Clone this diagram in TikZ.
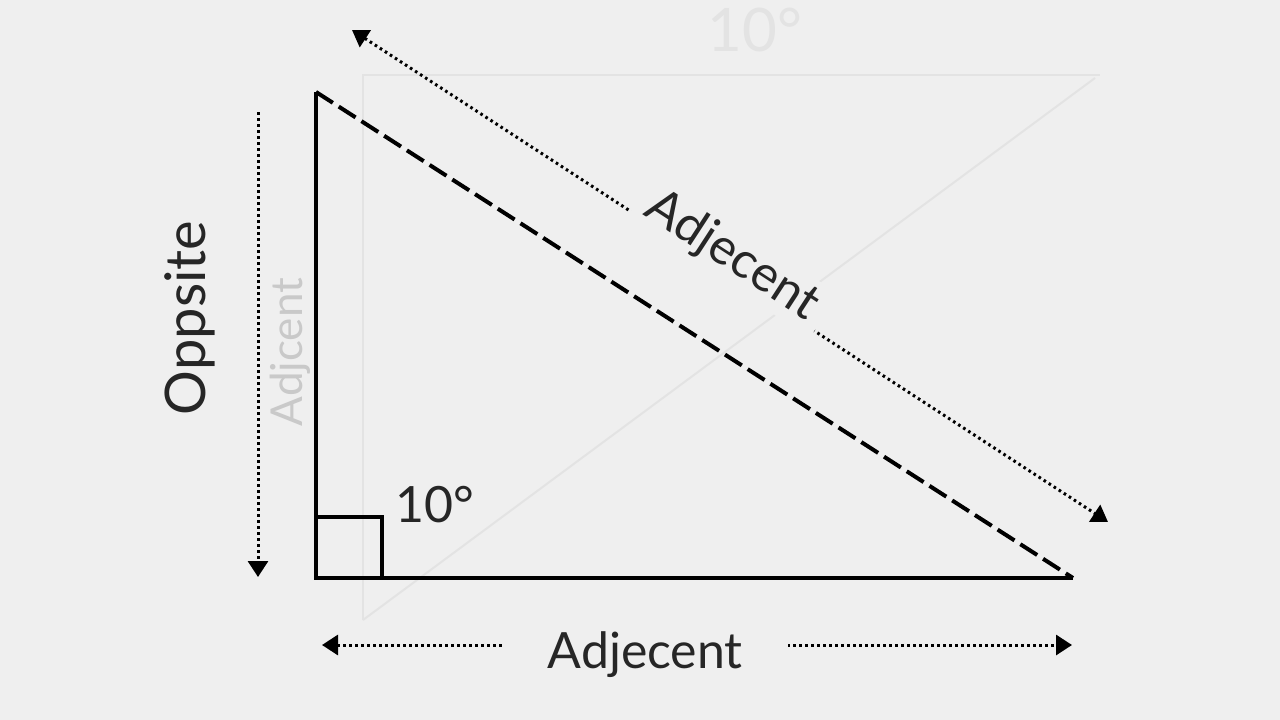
\documentclass[tikz,border=0pt]{standalone}
\usepackage{fontspec}
\setmainfont{Lato}
\usetikzlibrary{arrows.meta}
\definecolor{bg}{HTML}{EFEFEF}
\definecolor{ghost}{HTML}{E3E3E3}
\definecolor{ghosttext}{HTML}{C9C9C9}
\tikzset{
  side/.style={line width=4pt, line join=miter},
  dotarrow/.style={line width=3pt, dash pattern=on 2.6pt off 3.4pt,
    arrows={-Triangle[length=16pt,width=20pt]}},
  twoway/.style={arrows={Triangle[length=16pt,width=20pt]-Triangle[length=16pt,width=20pt]}},
  lbl/.style={font=\fontsize{50}{60}\selectfont, text=black!85},
}
\begin{document}
\begin{tikzpicture}[x=1pt,y=-1pt]
\fill[bg] (0,0) rectangle (1280,720);
\useasboundingbox (0,0) rectangle (1280,720);

% faint background
\draw[ghost, line width=2pt] (363,620) -- (363,75) -- (1100,75);
\draw[ghost, line width=2pt] (363,620) -- (1095,78);
\node[text=ghost, font=\fontsize{60}{60}\selectfont] (ghostangle) at (755,30) {10°};
\node[text=ghosttext, rotate=90, font=\fontsize{44}{48}\selectfont] (ghostadj) at (290,352) {Adjcent};

% triangle
\coordinate (A) at (316,92);
\coordinate (B) at (316,578);
\coordinate (C) at (1073,578);
\draw[side] (C) -- (B) -- (A);
\draw[side, dash pattern=on 20pt off 7pt] (A) -- (C);
\draw[line width=3.5pt] (316,517) -| (382,578);
\node[lbl, anchor=west] (angle) at (392,505) {10°};

% left side
\coordinate (o1) at (258,112);
\coordinate (o2) at (258,577);
\draw[dotarrow] (o1) -- (o2);
\node[lbl, rotate=90, font=\fontsize{56}{60}\selectfont] (opp) at (190,318) {Oppsite};

% bottom side
\coordinate (b1) at (322,645);
\coordinate (b2) at (1072,645);
\draw[dotarrow, twoway] (b1) -- (b2)
  node[lbl, pos=0.431, fill=bg, inner xsep=45pt, yshift=-10pt] (adjb) {Adjecent};

% hypotenuse
\coordinate (h1) at (352,30);
\coordinate (h2) at (1108,522);
\draw[dotarrow, twoway] (h1) -- (h2)
  node[lbl, pos=0.49, sloped, fill=bg, inner xsep=12pt, yshift=18pt] (adjh) {Adjecent};
\end{tikzpicture}
\end{document}
